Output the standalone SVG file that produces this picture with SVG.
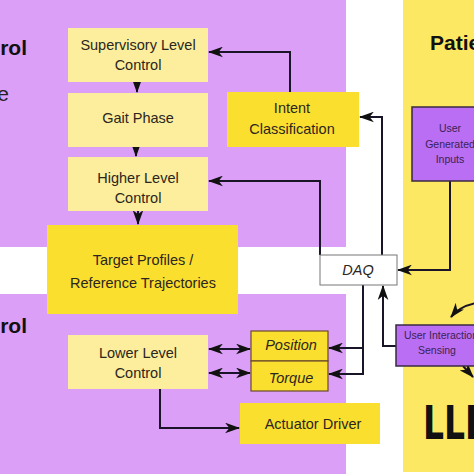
<svg xmlns="http://www.w3.org/2000/svg" width="474" height="474" viewBox="0 0 474 474">
<style>
.pn{fill:#dc9ff7}
.ly{fill:#fcee9c}
.by{fill:#fbdf2f}
.t{font-family:"Liberation Sans",Arial,sans-serif;font-size:14.5px;fill:#2b2620;text-anchor:middle}
.s{font-family:"Liberation Sans",Arial,sans-serif;font-size:10.5px;fill:#3a2255;text-anchor:middle}
.h{font-family:"Liberation Sans",Arial,sans-serif;font-weight:bold;font-size:21px;fill:#111}
.c{fill:none;stroke:#1a1428;stroke-width:2}
</style>
<defs>
<marker id="a" markerUnits="userSpaceOnUse" markerWidth="15" markerHeight="11" refX="13" refY="5" orient="auto-start-reverse" viewBox="0 0 14 10">
<path d="M0,0 L14,5 L0,10 L4,5 z" fill="#111"/>
</marker>
</defs>
<rect width="474" height="474" fill="#fff"/>
<g id="panels">
<rect class="pn" x="0" y="0" width="346" height="247"/>
<rect class="pn" x="0" y="294" width="346" height="180"/>
<rect x="403" y="0" width="71" height="472" fill="#fce863"/>
<text class="h" x="27" y="55" text-anchor="end">rol</text>
<text x="9" y="101" text-anchor="end" font-family="Liberation Sans,Arial,sans-serif" font-size="21" fill="#222">e</text>
<text class="h" x="27" y="333" text-anchor="end">rol</text>
<text class="h" x="430" y="50">Patie</text>
<text transform="translate(423,439) scale(0.78,1)" x="0" y="0" font-family="DejaVu Sans Condensed,DejaVu Sans,sans-serif" font-weight="bold" font-size="47" fill="#111">LLE</text>
</g>
<g id="connectors">
<path class="c" d="M290,92 V52 H209" marker-end="url(#a)"/>
<path class="c" d="M137,82 V92" marker-end="url(#a)"/>
<path class="c" d="M136,147 V156" marker-end="url(#a)"/>
<path class="c" d="M138,211 V224" marker-end="url(#a)"/>
<path class="c" d="M320,255 V181 H209" marker-end="url(#a)"/>
<path class="c" d="M382,255 V117 H360" marker-end="url(#a)"/>
<path class="c" d="M450,181 V270 H398" marker-end="url(#a)"/>
<path class="c" d="M363,285 V374 H329" marker-end="url(#a)"/>
<path class="c" d="M363,348 H329" marker-end="url(#a)"/>
<path class="c" d="M396,346 H383 V286" marker-end="url(#a)"/>
<path class="c" d="M209,349 H250" marker-start="url(#a)" marker-end="url(#a)"/>
<path class="c" d="M209,373 H250" marker-start="url(#a)" marker-end="url(#a)"/>
<path class="c" d="M160,389 V428 H239" marker-end="url(#a)"/>
<path class="c" d="M476,303 Q460,306 451,317" stroke-width="1.5" marker-end="url(#a)"/>
<path class="c" d="M463,366 L473,377" stroke-width="1.5" marker-end="url(#a)"/>
</g>
<g id="supervisory"><rect class="ly" x="68" y="28" width="140" height="54"/><text class="t" x="138" y="50">Supervisory Level</text><text class="t" x="138" y="70">Control</text></g>
<g id="gait"><rect class="ly" x="68" y="93" width="140" height="54"/><text class="t" x="138" y="123">Gait Phase</text></g>
<g id="higher"><rect class="ly" x="68" y="157" width="140" height="54"/><text class="t" x="138" y="183">Higher Level</text><text class="t" x="138" y="203">Control</text></g>
<g id="target"><rect class="by" x="47" y="225" width="191" height="89"/><text class="t" x="143" y="265">Target Profiles /</text><text class="t" x="143" y="288">Reference Trajectories</text></g>
<g id="lower"><rect class="ly" x="68" y="335" width="140" height="54"/><text class="t" x="138" y="358">Lower Level</text><text class="t" x="138" y="378">Control</text></g>
<g id="intent"><rect class="by" x="227" y="92" width="132" height="55"/><text class="t" x="292" y="113">Intent</text><text class="t" x="292" y="134">Classification</text></g>
<g id="ugi"><rect x="412" y="107" width="80" height="74" fill="#b96ef3" stroke="#3a2a44" stroke-width="1.5"/><text class="s" x="450" y="132">User</text><text class="s" x="450" y="148">Generated</text><text class="s" x="450" y="163">Inputs</text></g>
<g id="daq"><rect x="320" y="255" width="77" height="30" fill="#fff" stroke="#777" stroke-width="1"/><text class="t" x="358" y="275" font-style="italic">DAQ</text></g>
<g id="position"><rect class="by" x="251" y="331" width="77" height="30" stroke="#6a4a2a" stroke-width="1.2"/><text class="t" x="291" y="350" font-style="italic">Position</text></g>
<g id="torque"><rect class="by" x="251" y="361" width="77" height="30" stroke="#6a4a2a" stroke-width="1.2"/><text class="t" x="291" y="383" font-style="italic">Torque</text></g>
<g id="actuator"><rect class="by" x="240" y="403" width="140" height="41"/><text class="t" x="313" y="429">Actuator Driver</text></g>
<g id="uis"><rect x="396" y="325" width="82" height="41" fill="#b96ef3" stroke="#3a2a44" stroke-width="1.5"/><text class="s" x="441" y="339">User Interaction</text><text class="s" x="437" y="354">Sensing</text></g>
</svg>
